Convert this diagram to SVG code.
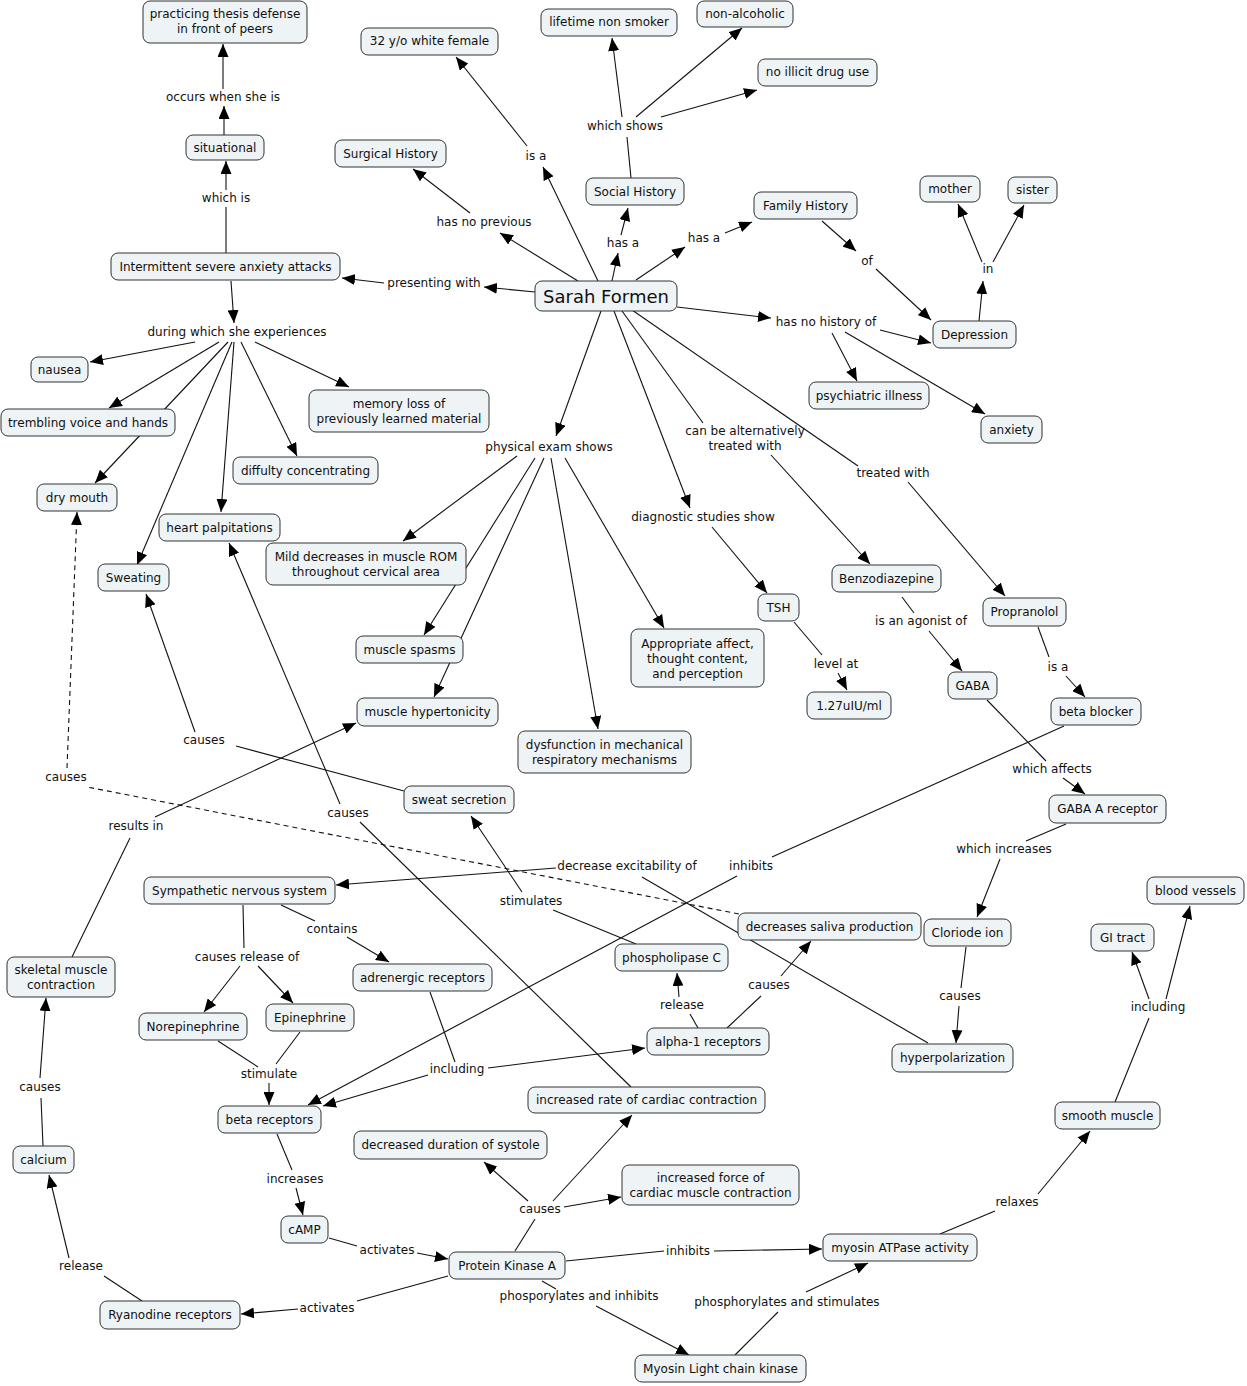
<svg xmlns="http://www.w3.org/2000/svg" width="1247" height="1386" viewBox="0 0 1247 1386">
<style>
.n rect{fill:#EEF3F5;stroke:#333;stroke-width:1}
text{font-family:"DejaVu Sans",Verdana,sans-serif;font-size:12px;fill:#111;text-anchor:middle}
.big{font-size:18px}
.c line{stroke:#111;stroke-width:1.1}
.c .a{marker-end:url(#ah)}
.c .d{stroke-dasharray:5,4}
</style>
<defs>
<marker id="ah" markerUnits="userSpaceOnUse" markerWidth="13" markerHeight="11" refX="13" refY="5.5" orient="auto"><path d="M0,0 L13,5.5 L0,11 z" fill="#000"/></marker>
</defs>
<rect width="1247" height="1386" fill="#fff"/>
<g id="connectors" class="c">
<line class="a" x1="224" y1="135" x2="224" y2="106"/><line class="a" x1="223" y1="89" x2="223" y2="44"/>
<line x1="226" y1="253" x2="226" y2="207"/><line class="a" x1="226" y1="190" x2="226" y2="161"/>
<line class="a" x1="598" y1="281" x2="543" y2="167"/><line class="a" x1="527" y1="146" x2="456" y2="57"/>
<line x1="631" y1="178" x2="627" y2="137"/><line class="a" x1="622" y1="117" x2="612" y2="38"/><line class="a" x1="636" y1="117" x2="742" y2="28"/><line class="a" x1="661" y1="117" x2="757" y2="90"/>
<line class="a" x1="578" y1="281" x2="500" y2="233"/><line class="a" x1="470" y1="213" x2="413" y2="169"/>
<line class="a" x1="612" y1="281" x2="618" y2="253"/><line class="a" x1="621" y1="235" x2="628" y2="208"/>
<line class="a" x1="636" y1="280" x2="685" y2="247"/><line class="a" x1="725" y1="233" x2="752" y2="222"/>
<line class="a" x1="822" y1="221" x2="856" y2="251"/><line class="a" x1="876" y1="269" x2="931" y2="320"/>
<line class="a" x1="979" y1="321" x2="983" y2="281"/><line class="a" x1="982" y1="262" x2="958" y2="204"/><line class="a" x1="993" y1="262" x2="1024" y2="205"/>
<line class="a" x1="535" y1="292" x2="484" y2="287"/><line class="a" x1="384" y1="283" x2="342" y2="278"/>
<line class="a" x1="677" y1="307" x2="771" y2="318"/><line class="a" x1="880" y1="330" x2="931" y2="343"/><line class="a" x1="832" y1="333" x2="857" y2="381"/><line class="a" x1="845" y1="332" x2="985" y2="414"/>
<line class="a" x1="231" y1="281" x2="234" y2="323"/><line class="a" x1="195" y1="342" x2="90" y2="362"/><line class="a" x1="219" y1="342" x2="109" y2="408"/><line class="a" x1="228" y1="342" x2="95" y2="483"/><line class="a" x1="232" y1="342" x2="137" y2="565"/><line class="a" x1="234" y1="342" x2="221" y2="512"/><line class="a" x1="241" y1="342" x2="297" y2="456"/><line class="a" x1="255" y1="342" x2="349" y2="387"/>
<line class="a" x1="601" y1="311" x2="556" y2="436"/><line class="a" x1="517" y1="456" x2="403" y2="541"/><line class="a" x1="535" y1="458" x2="424" y2="635"/><line class="a" x1="544" y1="458" x2="434" y2="697"/><line class="a" x1="565" y1="458" x2="664" y2="628"/><line class="a" x1="551" y1="458" x2="598" y2="729"/>
<line class="a" x1="614" y1="311" x2="690" y2="508"/><line class="a" x1="712" y1="527" x2="767" y2="593"/>
<line x1="794" y1="622" x2="822" y2="655"/><line class="a" x1="838" y1="673" x2="847" y2="690"/>
<line x1="622" y1="311" x2="703" y2="423"/><line class="a" x1="771" y1="455" x2="870" y2="564"/>
<line x1="632" y1="310" x2="858" y2="466"/><line class="a" x1="908" y1="482" x2="1005" y2="596"/>
<line x1="902" y1="597" x2="914" y2="613"/><line class="a" x1="929" y1="631" x2="962" y2="671"/>
<line x1="1038" y1="627" x2="1049" y2="657"/><line class="a" x1="1066" y1="676" x2="1085" y2="697"/>
<line x1="987" y1="700" x2="1046" y2="761"/><line class="a" x1="1063" y1="778" x2="1085" y2="794"/>
<line x1="1066" y1="824" x2="1026" y2="841"/><line class="a" x1="1000" y1="859" x2="977" y2="917"/>
<line x1="966" y1="947" x2="961" y2="988"/><line class="a" x1="959" y1="1006" x2="956" y2="1043"/>
<line x1="928" y1="1043" x2="642" y2="877"/><line class="a" x1="556" y1="868" x2="336" y2="885"/>
<line x1="1064" y1="726" x2="772" y2="857"/><line class="a" x1="737" y1="876" x2="308" y2="1105"/>
<line class="d" x1="739" y1="914" x2="87" y2="787"/><line class="a d" x1="67" y1="768" x2="77" y2="512"/>
<line x1="727" y1="1028" x2="761" y2="996"/><line class="a" x1="781" y1="976" x2="811" y2="941"/>
<line x1="698" y1="1028" x2="690" y2="1014"/><line class="a" x1="679" y1="997" x2="677" y2="973"/>
<line x1="636" y1="944" x2="553" y2="910"/><line class="a" x1="522" y1="892" x2="471" y2="816"/>
<line x1="404" y1="791" x2="236" y2="746"/><line class="a" x1="195" y1="732" x2="146" y2="594"/>
<line x1="631" y1="1087" x2="360" y2="822"/><line class="a" x1="340" y1="804" x2="229" y2="543"/>
<line x1="72" y1="957" x2="130" y2="838"/><line class="a" x1="155" y1="817" x2="356" y2="723"/>
<line x1="281" y1="905" x2="315" y2="921"/><line class="a" x1="347" y1="937" x2="389" y2="962"/>
<line x1="243" y1="905" x2="244" y2="948"/><line class="a" x1="240" y1="966" x2="204" y2="1012"/><line class="a" x1="258" y1="966" x2="293" y2="1003"/>
<line x1="430" y1="992" x2="455" y2="1062"/><line class="a" x1="488" y1="1068" x2="645" y2="1048"/><line class="a" x1="428" y1="1075" x2="323" y2="1106"/>
<line x1="218" y1="1041" x2="258" y2="1067"/><line x1="300" y1="1032" x2="276" y2="1064"/><line class="a" x1="269" y1="1083" x2="269" y2="1105"/>
<line x1="277" y1="1134" x2="292" y2="1170"/><line class="a" x1="296" y1="1188" x2="303" y2="1215"/>
<line x1="329" y1="1238" x2="357" y2="1246"/><line class="a" x1="417" y1="1253" x2="448" y2="1259"/>
<line x1="515" y1="1251" x2="535" y2="1219"/><line class="a" x1="553" y1="1201" x2="632" y2="1115"/><line class="a" x1="528" y1="1201" x2="484" y2="1162"/><line class="a" x1="564" y1="1207" x2="621" y2="1197"/>
<line x1="566" y1="1261" x2="664" y2="1251"/><line class="a" x1="714" y1="1251" x2="822" y2="1249"/>
<line x1="448" y1="1276" x2="357" y2="1301"/><line class="a" x1="298" y1="1309" x2="241" y2="1314"/>
<line x1="542" y1="1281" x2="556" y2="1289"/><line class="a" x1="596" y1="1306" x2="689" y2="1355"/>
<line x1="735" y1="1355" x2="778" y2="1312"/><line class="a" x1="806" y1="1292" x2="868" y2="1263"/>
<line x1="940" y1="1234" x2="995" y2="1211"/><line class="a" x1="1038" y1="1194" x2="1090" y2="1131"/>
<line x1="1115" y1="1102" x2="1149" y2="1018"/><line class="a" x1="1149" y1="999" x2="1132" y2="952"/><line class="a" x1="1166" y1="999" x2="1190" y2="906"/>
<line x1="142" y1="1301" x2="104" y2="1276"/><line class="a" x1="69" y1="1258" x2="49" y2="1175"/>
<line x1="43" y1="1146" x2="41" y2="1098"/><line class="a" x1="40" y1="1078" x2="46" y2="998"/>
</g>
<g id="labels">
<text x="223" y="101">occurs when she is</text>
<text x="226" y="202">which is</text>
<text x="536" y="160">is a</text>
<text x="625" y="130">which shows</text>
<text x="484" y="226">has no previous</text>
<text x="623" y="247">has a</text>
<text x="704" y="242">has a</text>
<text x="867" y="265">of</text>
<text x="988" y="273">in</text>
<text x="434" y="287">presenting with</text>
<text x="826" y="326">has no history of</text>
<text x="237" y="336">during which she experiences</text>
<text x="549" y="451">physical exam shows</text>
<text x="745" y="435">can be alternatively</text>
<text x="745" y="450">treated with</text>
<text x="893" y="477">treated with</text>
<text x="703" y="521">diagnostic studies show</text>
<text x="921" y="625">is an agonist of</text>
<text x="836" y="668">level at</text>
<text x="1058" y="671">is a</text>
<text x="204" y="744">causes</text>
<text x="66" y="781">causes</text>
<text x="1052" y="773">which affects</text>
<text x="136" y="830">results in</text>
<text x="348" y="817">causes</text>
<text x="627" y="870">decrease excitability of</text>
<text x="751" y="870">inhibits</text>
<text x="1004" y="853">which increases</text>
<text x="531" y="905">stimulates</text>
<text x="332" y="933">contains</text>
<text x="247" y="961">causes release of</text>
<text x="769" y="989">causes</text>
<text x="960" y="1000">causes</text>
<text x="682" y="1009">release</text>
<text x="1158" y="1011">including</text>
<text x="457" y="1073">including</text>
<text x="269" y="1078">stimulate</text>
<text x="40" y="1091">causes</text>
<text x="295" y="1183">increases</text>
<text x="540" y="1213">causes</text>
<text x="1017" y="1206">relaxes</text>
<text x="387" y="1254">activates</text>
<text x="688" y="1255">inhibits</text>
<text x="81" y="1270">release</text>
<text x="579" y="1300">phosporylates and inhibits</text>
<text x="787" y="1306">phosphorylates and stimulates</text>
<text x="327" y="1312">activates</text>
</g>
<g id="n1" class="n"><rect x="143" y="1" width="164" height="42" rx="7"/><text x="225" y="18">practicing thesis defense</text><text x="225" y="33">in front of peers</text></g>
<g id="n2" class="n"><rect x="361" y="28" width="137" height="27" rx="7"/><text x="429.5" y="45">32 y/o white female</text></g>
<g id="n3" class="n"><rect x="541" y="9" width="136" height="27" rx="7"/><text x="609" y="26">lifetime non smoker</text></g>
<g id="n4" class="n"><rect x="697" y="1" width="96" height="26" rx="7"/><text x="745" y="18">non-alcoholic</text></g>
<g id="n5" class="n"><rect x="758" y="59" width="119" height="27" rx="7"/><text x="817.5" y="76">no illicit drug use</text></g>
<g id="n6" class="n"><rect x="335" y="140" width="111" height="27" rx="7"/><text x="390.5" y="158">Surgical History</text></g>
<g id="n7" class="n"><rect x="186" y="135" width="78" height="25" rx="7"/><text x="225" y="152">situational</text></g>
<g id="n8" class="n"><rect x="586" y="178" width="98" height="27" rx="7"/><text x="635" y="196">Social History</text></g>
<g id="n9" class="n"><rect x="754" y="192" width="103" height="27" rx="7"/><text x="805.5" y="210">Family History</text></g>
<g id="n10" class="n"><rect x="920" y="176" width="60" height="26" rx="7"/><text x="950" y="193">mother</text></g>
<g id="n11" class="n"><rect x="1008" y="177" width="49" height="26" rx="7"/><text x="1032.5" y="194">sister</text></g>
<g id="n12" class="n"><rect x="111" y="253" width="229" height="27" rx="7"/><text x="225.5" y="271">Intermittent severe anxiety attacks</text></g>
<g id="n13" class="n"><rect x="535" y="281" width="142" height="30" rx="7"/><text class="big" x="606" y="303">Sarah Formen</text></g>
<g id="n14" class="n"><rect x="933" y="321" width="83" height="27" rx="7"/><text x="974.5" y="339">Depression</text></g>
<g id="n15" class="n"><rect x="31" y="357" width="57" height="25" rx="7"/><text x="59.5" y="374">nausea</text></g>
<g id="n16" class="n"><rect x="309" y="390" width="180" height="42" rx="7"/><text x="399" y="408">memory loss of</text><text x="399" y="423">previously learned material</text></g>
<g id="n17" class="n"><rect x="1" y="409" width="174" height="27" rx="7"/><text x="88" y="427">trembling voice and hands</text></g>
<g id="n18" class="n"><rect x="809" y="382" width="120" height="27" rx="7"/><text x="869" y="400">psychiatric illness</text></g>
<g id="n19" class="n"><rect x="981" y="416" width="61" height="27" rx="7"/><text x="1011.5" y="434">anxiety</text></g>
<g id="n20" class="n"><rect x="233" y="457" width="145" height="27" rx="7"/><text x="305.5" y="475">diffulty concentrating</text></g>
<g id="n21" class="n"><rect x="37" y="484" width="80" height="27" rx="7"/><text x="77" y="502">dry mouth</text></g>
<g id="n22" class="n"><rect x="159" y="514" width="121" height="27" rx="7"/><text x="219.5" y="532">heart palpitations</text></g>
<g id="n23" class="n"><rect x="266" y="543" width="200" height="42" rx="7"/><text x="366" y="561">Mild decreases in muscle ROM</text><text x="366" y="576">throughout cervical area</text></g>
<g id="n24" class="n"><rect x="98" y="564" width="71" height="27" rx="7"/><text x="133.5" y="582">Sweating</text></g>
<g id="n25" class="n"><rect x="832" y="565" width="109" height="27" rx="7"/><text x="886.5" y="583">Benzodiazepine</text></g>
<g id="n26" class="n"><rect x="758" y="594" width="41" height="27" rx="7"/><text x="778.5" y="612">TSH</text></g>
<g id="n27" class="n"><rect x="983" y="598" width="83" height="28" rx="7"/><text x="1024.5" y="616">Propranolol</text></g>
<g id="n28" class="n"><rect x="631" y="629" width="133" height="58" rx="7"/><text x="697.5" y="648">Appropriate affect,</text><text x="697.5" y="663">thought content,</text><text x="697.5" y="678">and perception</text></g>
<g id="n29" class="n"><rect x="356" y="636" width="107" height="27" rx="7"/><text x="409.5" y="654">muscle spasms</text></g>
<g id="n30" class="n"><rect x="948" y="672" width="49" height="27" rx="7"/><text x="972.5" y="690">GABA</text></g>
<g id="n31" class="n"><rect x="807" y="692" width="84" height="27" rx="7"/><text x="849" y="710">1.27uIU/ml</text></g>
<g id="n32" class="n"><rect x="1051" y="698" width="90" height="27" rx="7"/><text x="1096" y="716">beta blocker</text></g>
<g id="n33" class="n"><rect x="357" y="698" width="141" height="28" rx="7"/><text x="427.5" y="716">muscle hypertonicity</text></g>
<g id="n34" class="n"><rect x="518" y="731" width="173" height="42" rx="7"/><text x="604.5" y="749">dysfunction in mechanical</text><text x="604.5" y="764">respiratory mechanisms</text></g>
<g id="n35" class="n"><rect x="404" y="786" width="110" height="27" rx="7"/><text x="459" y="804">sweat secretion</text></g>
<g id="n36" class="n"><rect x="1049" y="795" width="117" height="28" rx="7"/><text x="1107.5" y="813">GABA A receptor</text></g>
<g id="n37" class="n"><rect x="144" y="877" width="191" height="27" rx="7"/><text x="239.5" y="895">Sympathetic nervous system</text></g>
<g id="n38" class="n"><rect x="738" y="913" width="183" height="27" rx="7"/><text x="829.5" y="931">decreases saliva production</text></g>
<g id="n39" class="n"><rect x="924" y="919" width="87" height="27" rx="7"/><text x="967.5" y="937">Cloriode ion</text></g>
<g id="n40" class="n"><rect x="1147" y="877" width="97" height="27" rx="7"/><text x="1195.5" y="895">blood vessels</text></g>
<g id="n41" class="n"><rect x="1091" y="924" width="63" height="27" rx="7"/><text x="1122.5" y="942">GI tract</text></g>
<g id="n42" class="n"><rect x="615" y="944" width="113" height="27" rx="7"/><text x="671.5" y="962">phospholipase C</text></g>
<g id="n43" class="n"><rect x="353" y="964" width="139" height="27" rx="7"/><text x="422.5" y="982">adrenergic receptors</text></g>
<g id="n44" class="n"><rect x="7" y="957" width="108" height="40" rx="7"/><text x="61" y="974">skeletal muscle</text><text x="61" y="989">contraction</text></g>
<g id="n45" class="n"><rect x="266" y="1004" width="88" height="27" rx="7"/><text x="310" y="1022">Epinephrine</text></g>
<g id="n46" class="n"><rect x="139" y="1013" width="108" height="27" rx="7"/><text x="193" y="1031">Norepinephrine</text></g>
<g id="n47" class="n"><rect x="647" y="1028" width="122" height="27" rx="7"/><text x="708" y="1046">alpha-1 receptors</text></g>
<g id="n48" class="n"><rect x="892" y="1044" width="121" height="28" rx="7"/><text x="952.5" y="1062">hyperpolarization</text></g>
<g id="n49" class="n"><rect x="528" y="1087" width="237" height="26" rx="7"/><text x="646.5" y="1104">increased rate of cardiac contraction</text></g>
<g id="n50" class="n"><rect x="1055" y="1102" width="105" height="27" rx="7"/><text x="1107.5" y="1120">smooth muscle</text></g>
<g id="n51" class="n"><rect x="218" y="1106" width="103" height="27" rx="7"/><text x="269.5" y="1124">beta receptors</text></g>
<g id="n52" class="n"><rect x="354" y="1131" width="193" height="28" rx="7"/><text x="450.5" y="1149">decreased duration of systole</text></g>
<g id="n53" class="n"><rect x="622" y="1165" width="177" height="40" rx="7"/><text x="710.5" y="1182">increased force of</text><text x="710.5" y="1197">cardiac muscle contraction</text></g>
<g id="n54" class="n"><rect x="13" y="1146" width="61" height="27" rx="7"/><text x="43.5" y="1164">calcium</text></g>
<g id="n55" class="n"><rect x="281" y="1216" width="47" height="27" rx="7"/><text x="304.5" y="1234">cAMP</text></g>
<g id="n56" class="n"><rect x="823" y="1234" width="154" height="27" rx="7"/><text x="900" y="1252">myosin ATPase activity</text></g>
<g id="n57" class="n"><rect x="449" y="1252" width="116" height="27" rx="7"/><text x="507" y="1270">Protein Kinase A</text></g>
<g id="n58" class="n"><rect x="100" y="1301" width="140" height="28" rx="7"/><text x="170" y="1319">Ryanodine receptors</text></g>
<g id="n59" class="n"><rect x="635" y="1355" width="171" height="27" rx="7"/><text x="720.5" y="1373">Myosin Light chain kinase</text></g>
</svg>
